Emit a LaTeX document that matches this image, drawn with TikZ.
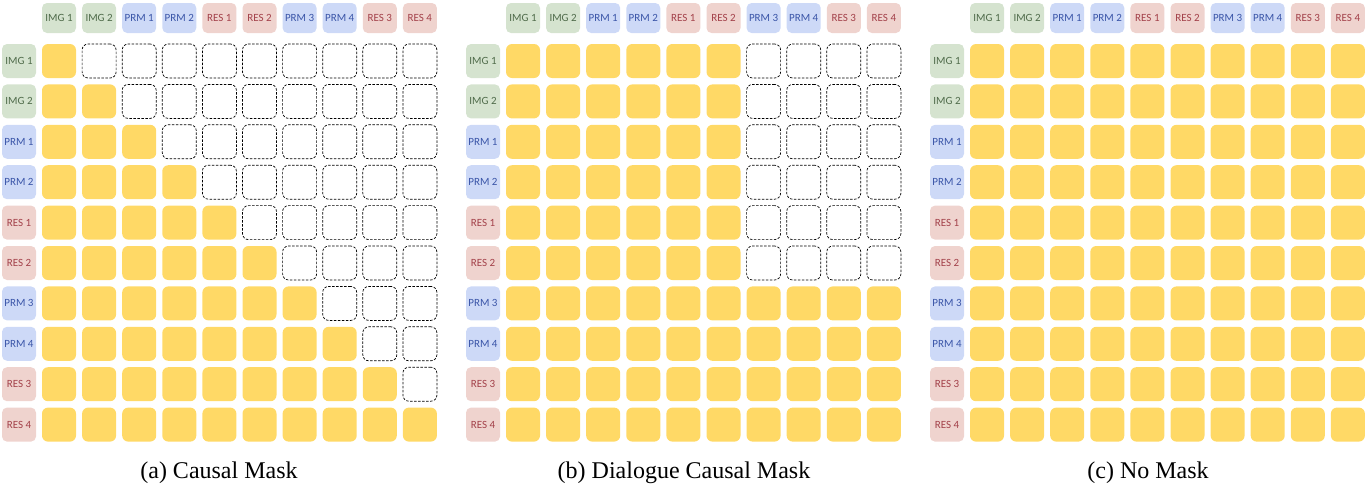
\documentclass[tikz,border=0pt]{standalone}
\usepackage{fontspec}
\setmainfont{Liberation Serif}
\newfontfamily\lab{Carlito}
\definecolor{gF}{HTML}{D5E3CF}\definecolor{gT}{HTML}{4F6B4A}
\definecolor{bF}{HTML}{CDD9F7}\definecolor{bT}{HTML}{3A55A8}
\definecolor{rF}{HTML}{EFD3CE}\definecolor{rT}{HTML}{A3414A}
\definecolor{yF}{HTML}{FFD966}
\tikzset{
 cell/.style={minimum width=34pt,minimum height=34pt,rounded corners=6pt,inner sep=0pt},
 hdr/.style={minimum width=34pt,minimum height=30pt,rounded corners=5pt,inner sep=0pt,font=\lab\fontsize{11}{11}\selectfont},
 full/.style={cell,fill=yF},
 empty/.style={cell,draw=black,line width=0.7pt,dash pattern=on 2.5pt off 1.5pt},
 captext/.style={font=\fontsize{24}{26}\selectfont}
}
\begin{document}
\begin{tikzpicture}[x=1pt,y=-1pt]
\useasboundingbox (0,0) rectangle (1370,496);
\foreach \p/\ox in {a/0,b/464,c/928}{
 \foreach \t/\c [count=\i] in {IMG 1/g,IMG 2/g,PRM 1/b,PRM 2/b,RES 1/r,RES 2/r,PRM 3/b,PRM 4/b,RES 3/r,RES 4/r}{
  \node[hdr,fill=\c F,text=\c T] (\p-col-\i) at ({\ox+59+(\i-1)*40.1},18) {\t};
  \node[hdr,minimum height=34pt,fill=\c F,text=\c T] (\p-row-\i) at ({\ox+19},{61+(\i-1)*40.4}) {\t};
 }
}
\foreach \r in {1,...,10}{
 \foreach \c in {1,...,10}{
  \pgfmathtruncatemacro{\fa}{\c<=\r ? 1 : 0}
  \pgfmathtruncatemacro{\fb}{(\c<=6 || \r>=7) ? 1 : 0}
  \ifnum\fa=1 \node[full] (a-\r-\c) at ({59+(\c-1)*40.1},{61+(\r-1)*40.4}) {};
  \else \node[empty] (a-\r-\c) at ({59+(\c-1)*40.1},{61+(\r-1)*40.4}) {};\fi
  \ifnum\fb=1 \node[full] (b-\r-\c) at ({523+(\c-1)*40.1},{61+(\r-1)*40.4}) {};
  \else \node[empty] (b-\r-\c) at ({523+(\c-1)*40.1},{61+(\r-1)*40.4}) {};\fi
  \node[full] (c-\r-\c) at ({987+(\c-1)*40.1},{61+(\r-1)*40.4}) {};
 }
}
\node[captext] (capa) at (219,473) {(a) Causal Mask};
\node[captext] (capb) at (684,473) {(b) Dialogue Causal Mask};
\node[captext] (capc) at (1148,473) {(c) No Mask};
\end{tikzpicture}
\end{document}
